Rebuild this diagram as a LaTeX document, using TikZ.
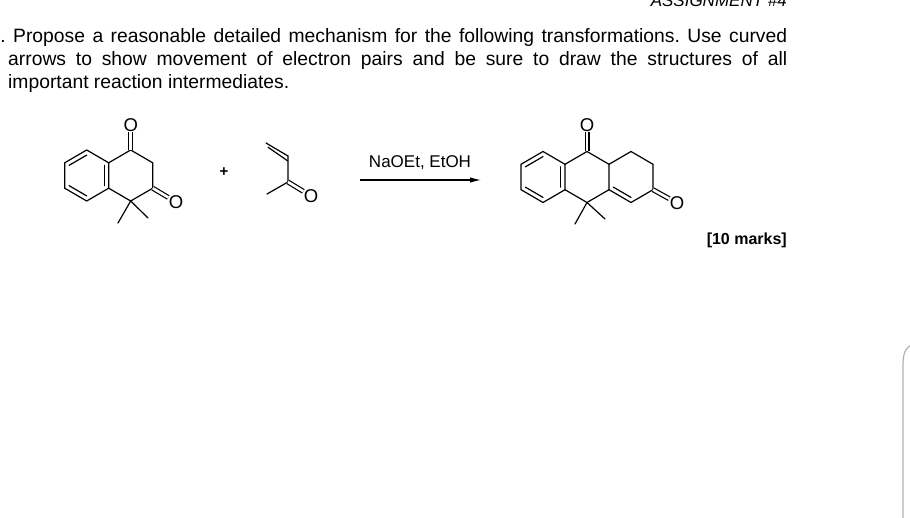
\documentclass[tikz,border=0pt]{standalone}
\usepackage{fontspec}
\setmainfont{Liberation Sans}
\usetikzlibrary{calc,arrows.meta}
\frenchspacing
\begin{document}
\begin{tikzpicture}[x=1pt,y=-1pt,
  bond/.style={line width=1.2pt,line cap=round},
  dbl/.style={line width=1.2pt,double distance=2.6pt},
  oxy/.style={font=\fontsize{18.5}{18.5}\selectfont,inner sep=0.3pt},
  txt/.style={font=\fontsize{19.3}{22.7}\selectfont,inner sep=0pt,anchor=base west}]
\useasboundingbox (0,0) rectangle (910,518);
\clip (0,0) rectangle (910,518);
\fill[white] (0,0) rectangle (910,518);
% header
\node[font=\fontsize{17}{17}\selectfont\itshape,anchor=base east,inner sep=0] (hdr) at (787,6.5) {ASSIGNMENT \#4};
\node[txt,text width=779pt,align=justify] (q) at (8,43) {\hspace*{5pt}Propose a reasonable detailed mechanism for the following transformations. Use curved\linebreak arrows to show movement of electron pairs and be sure to draw the structures of all\linebreak important reaction intermediates.};
\node[font=\fontsize{19}{19}\selectfont,anchor=base,inner sep=0] (dot) at (3,43) {.};
% macros for hex ring
\newcommand\hexring[3]{% name, cx, cy
 \coordinate (#1t) at (#2,#3-25.5);
 \coordinate (#1ur) at (#2+22,#3-12.7);
 \coordinate (#1lr) at (#2+22,#3+12.7);
 \coordinate (#1b) at (#2,#3+25.5);
 \coordinate (#1ll) at (#2-22,#3+12.7);
 \coordinate (#1ul) at (#2-22,#3-12.7);
 \coordinate (#1c) at (#2,#3);}
\newcommand\inner[3]{\draw[bond] ($(#1)!0.2!(#3)$) -- ($(#2)!0.2!(#3)$);}
% ---- reactant 1
\hexring{A}{86.7}{175.5}
\hexring{B}{130.7}{175.5}
\draw[bond] (At)--(Aur)--(Alr)--(Ab)--(All)--(Aul)--cycle;
\draw[bond] (Bt)--(Bur)--(Blr)--(Bb)--(Bll);
\draw[bond] (Bul)--(Bt);
\inner{At}{Aul}{Ac}\inner{Aur}{Alr}{Ac}\inner{Ab}{All}{Ac}
\node[oxy] (O1) at (130.7,125) {O};
\draw[dbl] (Bt) -- (O1);
\node[oxy] (O2) at (176,202) {O};
\draw[dbl] (Blr) -- (O2);
\coordinate (Me1) at (118,223); \coordinate (Me2) at (148,218);
\draw[bond] (Bb)--(Me1); \draw[bond] (Bb)--(Me2);
% plus
\node[font=\bfseries\fontsize{15}{15}\selectfont,inner sep=0] (plus) at (224,172) {+};
% MVK
\coordinate (m1) at (266,143); \coordinate (m2) at (288,156);
\coordinate (m3) at (288,182); \coordinate (m4) at (267,194);
\node[oxy] (O3) at (311,196) {O};
\draw[bond] (m2)--(m3)--(m4);
\draw[bond] (m1)--(m2);
\draw[bond] ($(m1)+(2,4.2)$)--($(m2)+(-0.3,4.9)$);
\draw[dbl] (m3)--(O3);
% arrow
\coordinate (ar1) at (360,180); \coordinate (ar2) at (481,180);
\draw[line width=1.2pt,-{Latex[length=11pt,width=5.5pt]}] (ar1)--(ar2);
\node[font=\fontsize{17}{17}\selectfont,anchor=base,inner sep=0] (cond) at (420,168) {NaOEt, EtOH};
% ---- product
\hexring{C}{543}{177}
\hexring{D}{587}{177}
\hexring{E}{631}{177}
\draw[bond] (Ct)--(Cur)--(Clr)--(Cb)--(Cll)--(Cul)--cycle;
\draw[bond] (Dt)--(Dur)--(Dlr)--(Db)--(Dll);
\draw[bond] (Dul)--(Dt);
\draw[bond] (Dur)--(Et)--(Eur)--(Elr)--(Eb)--(Dlr);
\inner{Ct}{Cul}{Cc}\inner{Cur}{Clr}{Cc}\inner{Cb}{Cll}{Cc}
\inner{Dlr}{Eb}{Ec}
\node[oxy] (O4) at (587,125) {O};
\draw[dbl] (Dt) -- (O4);
\node[oxy] (O5) at (677,203) {O};
\draw[dbl] (Elr) -- (O5);
\coordinate (Me3) at (575,224); \coordinate (Me4) at (605,219);
\draw[bond] (Db)--(Me3); \draw[bond] (Db)--(Me4);
% marks
\node[font=\bfseries\fontsize{16}{16}\selectfont,anchor=base east,inner sep=0] (marks) at (787,245) {[10 marks]};
% right edge panel
\draw[gray!60,line width=1.2pt] (912,345) .. controls (904,348) and (903,356) .. (903,366) -- (903,520);
\end{tikzpicture}
\end{document}
